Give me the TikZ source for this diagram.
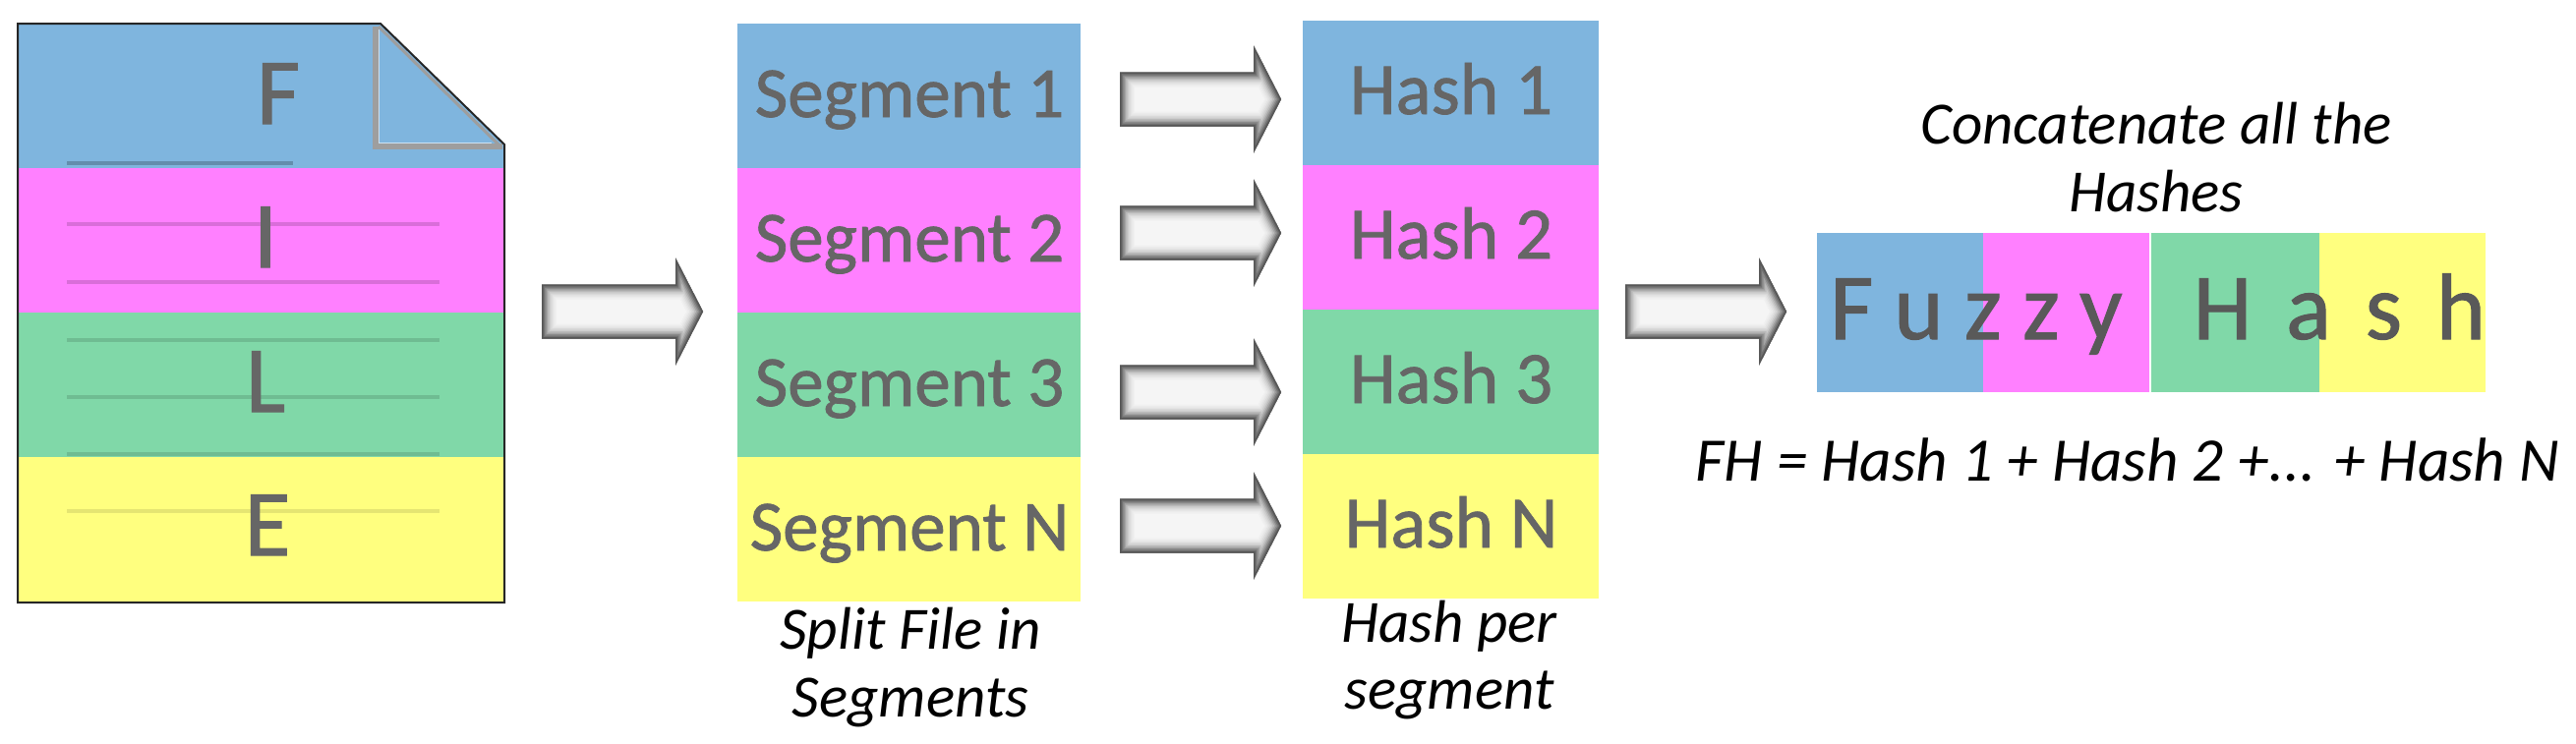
\documentclass[tikz,border=0pt]{standalone}
\usepackage{fontspec}
\setmainfont{Carlito}[FakeBold=1.1]
\newfontfamily\reg{Carlito}
\definecolor{cblue}{HTML}{7FB5DE}
\definecolor{cpink}{HTML}{FF80FF}
\definecolor{cgreen}{HTML}{80D8A8}
\definecolor{cyellow}{HTML}{FFFF7F}
\definecolor{ink}{HTML}{666666}
\definecolor{inkd}{HTML}{595959}
\newcommand{\blockarrow}[3]{% x of tail, x-centre y, name
  \coordinate (#3) at (#1,#2);
  \begin{scope}[shift={(#1,#2)}]
    \begin{scope}
      \clip (0,-27.5) -- (136,-27.5) -- (136,-54.5) -- (164,0) -- (136,54.5) -- (136,27.5) -- (0,27.5) -- cycle;
      \fill[black!4] (-5,-60) rectangle (170,60);
      \foreach \w/\c in {30/6,27/8,24/11,21/15,18/20,15/27,12/36,9/46,6/56,3/66}{
        \draw[black!\c,line width=\w pt,line join=miter]
          (0,-27.5) -- (136,-27.5) -- (136,-54.5) -- (164,0) -- (136,54.5) -- (136,27.5) -- (0,27.5) -- cycle;
      }
    \end{scope}
  \end{scope}
}
\tikzset{
  x=1pt,y=-1pt,
  lbl/.style={anchor=base,inner sep=0pt,text=ink,font=\fontsize{73}{73}\selectfont},
  hlbl/.style={anchor=base,inner sep=0pt,text=ink,font=\fontsize{75}{75}\selectfont},
  letter/.style={anchor=base,inner sep=0pt,text=ink,font=\fontsize{96}{96}\selectfont},
  captxt/.style={anchor=base,inner sep=0pt,text=black,font=\reg\fontsize{61}{61}\selectfont\itshape},
  band/.style={draw=none,inner sep=0pt,anchor=north west},
  rulel/.style={line width=3.5pt}
}
\begin{document}
\begin{tikzpicture}
\useasboundingbox (0,0) rectangle (2620,756);
% file
\begin{scope}
  \clip (18,24) -- (387,24) -- (513,147) -- (513,613) -- (18,613) -- cycle;
  \fill[cblue] (18,24) rectangle (513,171);
  \fill[cpink] (18,171) rectangle (513,318);
  \fill[cgreen] (18,318) rectangle (513,465);
  \fill[cyellow] (18,465) rectangle (513,613);
\end{scope}
\draw[rulel,color=cblue!78!black] (68,166) -- (298,166);
\draw[rulel,color=cpink!85!black] (68,228) -- (447,228);
\draw[rulel,color=cpink!85!black] (68,287) -- (447,287);
\draw[rulel,color=cgreen!87!black] (68,346) -- (447,346);
\draw[rulel,color=cgreen!87!black] (68,404) -- (447,404);
\draw[rulel,color=cgreen!87!black] (68,462) -- (447,462);
\draw[rulel,color=cyellow!90!black] (68,520) -- (447,520);
\draw[line width=6pt,color=black!38,line join=miter] (382,27) -- (382,149) -- (511,149);
\draw[line width=1pt,color=white!60!cblue] (385.5,30) -- (385.5,145.5) -- (500,145.5);
\draw[line width=3pt,color=black!38] (385,27) -- (510,150);
\draw[line width=2pt,color=black!85,line join=miter] (18,24) -- (387,24) -- (513,147) -- (513,613) -- (18,613) -- cycle;
\node[letter] (lf) at (283,126) {F};
\node[letter] (li) at (270,272) {I};
\node[letter] (ll) at (270,419) {L};
\node[letter] (le) at (272,565) {E};
% segments
\node[band,fill=cblue,minimum width=349pt,minimum height=147pt] (s1) at (750,24) {};
\node[band,fill=cpink,minimum width=349pt,minimum height=147pt] (s2) at (750,171) {};
\node[band,fill=cgreen,minimum width=349pt,minimum height=147pt] (s3) at (750,318) {};
\node[band,fill=cyellow,minimum width=349pt,minimum height=147pt] (s4) at (750,465) {};
\node[lbl] (st1) at (925,119) {Segment 1};
\node[lbl] (st2) at (925,266) {Segment 2};
\node[lbl] (st3) at (925,413) {Segment 3};
\node[lbl] (st4) at (925,560) {Segment N};
% hashes
\node[band,fill=cblue,minimum width=301pt,minimum height=147pt] (h1) at (1325,21) {};
\node[band,fill=cpink,minimum width=301pt,minimum height=147pt] (h2) at (1325,168) {};
\node[band,fill=cgreen,minimum width=301pt,minimum height=147pt] (h3) at (1325,315) {};
\node[band,fill=cyellow,minimum width=301pt,minimum height=147pt] (h4) at (1325,462) {};
\node[hlbl] (ht1) at (1476,116) {Hash 1};
\node[hlbl] (ht2) at (1476,263) {Hash 2};
\node[hlbl] (ht3) at (1476,410) {Hash 3};
\node[hlbl] (ht4) at (1476,557) {Hash N};
% arrows
\blockarrow{551}{317}{a0}
\blockarrow{1139}{101}{a1}
\blockarrow{1139}{237}{a2}
\blockarrow{1139}{399}{a3}
\blockarrow{1139}{535}{a4}
\blockarrow{1653}{317}{a5}
% fuzzy hash
\node[band,fill=cblue,minimum width=169pt,minimum height=162pt] (f1) at (1848,237) {};
\node[band,fill=cpink,minimum width=170pt,minimum height=162pt] (f2) at (2017,237) {};
\node[band,fill=cgreen,minimum width=172pt,minimum height=162pt] (f3) at (2187,237) {};
\node[band,fill=cyellow,minimum width=169pt,minimum height=162pt] (f4) at (2359,237) {};
\draw[white,line width=1.5pt] (f3.north west) -- (f3.south west);
\node[letter,text=inkd,anchor=base west] (fh) at (1861,345) {{\addfontfeature{LetterSpace=22}Fuzzy}\hspace{72pt}{\addfontfeature{LetterSpace=36}Hash}};
% captions
\node[captxt] (c1) at (2193,146) {Concatenate all the};
\node[captxt] (c2) at (2193,215) {Hashes};
\node[captxt,font=\reg\fontsize{63}{63}\selectfont\itshape] (c3) at (2164,489) {FH = Hash 1 + Hash 2 +... + Hash N};
\node[captxt] (c4) at (926,660) {Split File in};
\node[captxt] (c5) at (926,729) {Segments};
\node[captxt] (c6) at (1474,653) {Hash per};
\node[captxt] (c7) at (1474,721) {segment};
\end{tikzpicture}
\end{document}
